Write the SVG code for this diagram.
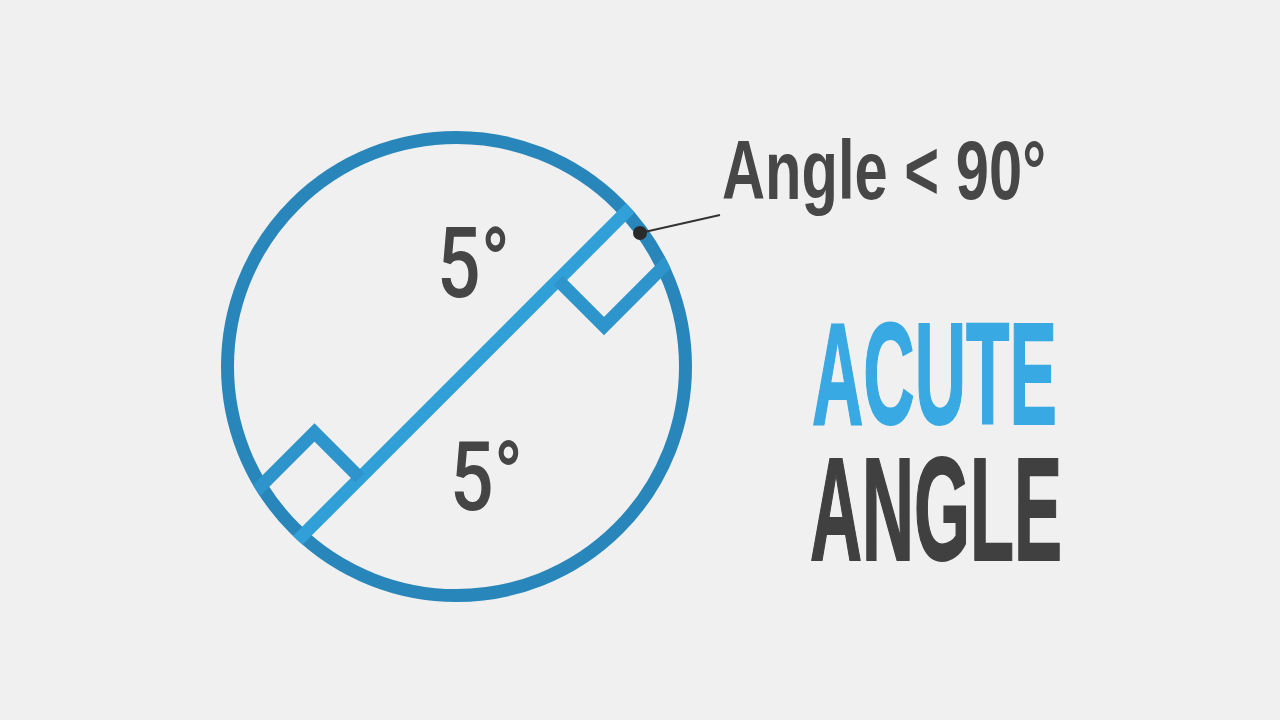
<svg xmlns="http://www.w3.org/2000/svg" width="1280" height="720" viewBox="0 0 1280 720">
<style>
.ring{fill:none;stroke:#2986ba;stroke-width:13}
.chord{fill:none;stroke:#319fd8;stroke-width:13;stroke-linecap:butt}
.mark{fill:none;stroke:#2e95cc;stroke-width:13;stroke-linejoin:miter;stroke-linecap:butt}
.big{font-family:"Liberation Sans",Arial,sans-serif;font-weight:700}
.deg{font-family:Roboto,"Liberation Sans",sans-serif;font-weight:500;fill:#454545}
</style>
<defs>
<clipPath id="outer"><circle cx="456.5" cy="366.5" r="235.5"/></clipPath>
</defs>
<rect width="1280" height="720" fill="#f0f0f0"/>
<g id="circle">
<circle class="ring" cx="456.5" cy="366.5" r="229"/>
</g>
<g id="connectors" clip-path="url(#outer)">
<line class="chord" x1="640" y1="198" x2="288" y2="550"/>
<polyline class="mark" points="558.3,280.3 604,326 672,258"/>
<polyline class="mark" points="360,478 314.5,432.5 252,495"/>
</g>
<g id="pointer">
<line x1="640" y1="233" x2="720" y2="215" stroke="#333" stroke-width="2"/>
<circle cx="640" cy="233" r="7" fill="#2a2a2a"/>
</g>
<g id="label-angle">
<text class="big" x="722" y="199" font-size="84" textLength="324" lengthAdjust="spacingAndGlyphs" fill="#474747">Angle &lt; 90°</text>
</g>
<g id="label-top">
<text class="deg" x="437" y="297" font-size="99" textLength="73" lengthAdjust="spacingAndGlyphs">5°</text>
</g>
<g id="label-bottom">
<text class="deg" x="450" y="510" font-size="96" textLength="73" lengthAdjust="spacingAndGlyphs">5°</text>
</g>
<g id="title">
<text class="big" x="812" y="424" font-size="145" textLength="245" lengthAdjust="spacingAndGlyphs" fill="#38a9e2" stroke="#38a9e2" stroke-width="2">ACUTE</text>
<text class="big" x="810" y="560" font-size="146" textLength="252" lengthAdjust="spacingAndGlyphs" fill="#404040" stroke="#404040" stroke-width="2">ANGLE</text>
</g>
</svg>
